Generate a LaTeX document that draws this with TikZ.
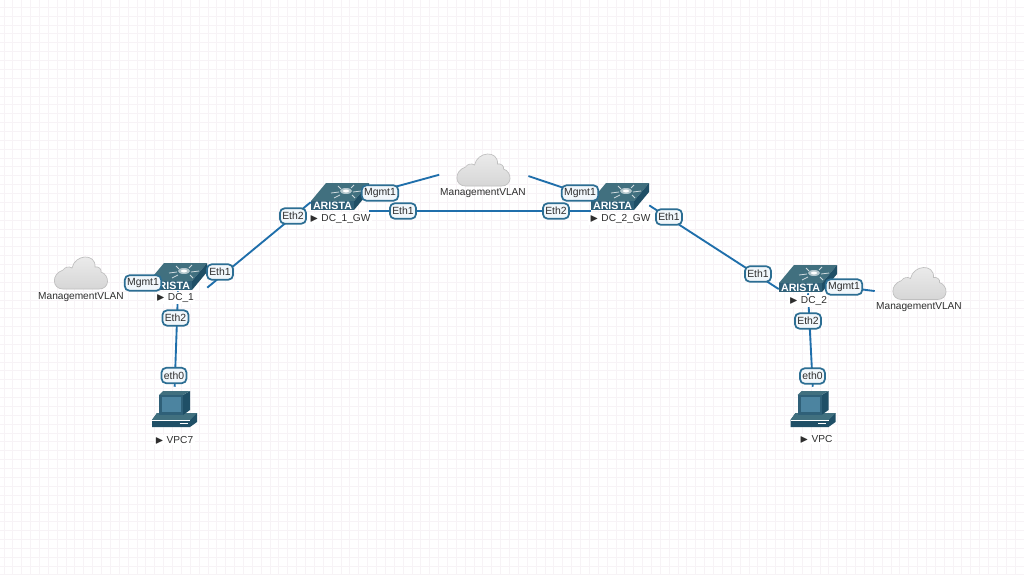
\documentclass[tikz,border=0pt]{standalone}
\usepackage{amssymb}
\usepackage{fontspec}
\setmainfont{Liberation Sans}
\definecolor{wirecol}{HTML}{1F6FAB}
\definecolor{portcol}{HTML}{2C6E93}
\definecolor{portfill}{HTML}{F1F7FB}
\definecolor{gridcol}{HTML}{F7F3F6}
\definecolor{textcol}{HTML}{2E2E2E}
\definecolor{hwtop}{HTML}{41707F}
\definecolor{hwfront}{HTML}{2F6078}
\definecolor{hwside}{HTML}{1F4F66}
\definecolor{hwscreen}{HTML}{4C84A0}
\tikzset{
  devbox/.style={inner sep=0pt,minimum width=43.5pt,minimum height=21pt},
  cloudbox/.style={inner sep=0pt,minimum width=40pt,minimum height=24pt},
  vpcbox/.style={inner sep=0pt,minimum width=33.75pt,minimum height=27pt},
  wire/.style={draw=wirecol,line width=1.4pt},
  port/.style={draw=portcol,fill=portfill,line width=1.3pt,rounded corners=3.6pt,
    inner xsep=1.8pt,inner ysep=0pt,minimum height=11.6pt,text=textcol,font=\fontsize{7.8}{8}\selectfont},
  devlabel/.style={fill=white,inner xsep=1pt,inner ysep=1pt,text=textcol,font=\fontsize{7.6}{8}\selectfont},
  aristaswitch/.pic={
    \fill[hwtop] (-14,-14) -- (29,-14) -- (14,4) -- (-29,4) -- cycle;
    \fill[hwside] (14,4) -- (29,-14) -- (29,-5) -- (14,13) -- cycle;
    \fill[hwfront] (-29,4) rectangle (14,13);
    \draw[white!75!hwtop,line width=0.6pt] (-9,-4) -- (-1,-5) (13,-5) -- (21,-6)
      (-2,-11) -- (1,-8) (14,-12) -- (11,-9) (-6,1) -- (0,-2) (12,-2) -- (15,1);
    \fill[white!60!hwtop] (6,-6) ellipse (6 and 3);
    \fill[white] (6,-6) ellipse (3 and 1.5);
    \node[text=white,inner sep=0pt,font=\fontsize{8}{8}\bfseries\selectfont] at (-7.5,8.7) {ARISTA};
  },
  cloudicon/.pic={
    \path[draw=black!25,line width=0.5pt,top color=black!7,middle color=white,bottom color=black!16]
      (-18,16) .. controls (-29,16) and (-30,1) .. (-18,-3)
      .. controls (-16,-6) and (-12,-7) .. (-9,-5)
      .. controls (-6,-19) and (15,-20) .. (14,-6)
      .. controls (17,-7) and (21,-4) .. (20,-1)
      .. controls (29,2) and (29,16) .. (18,16) -- cycle;
  },
  vpcicon/.pic={
    \fill[hwside] (-17.5,4) -- (22.5,4) -- (22.5,13) -- (15.5,18) -- (-22.5,18) -- (-22.5,11) -- cycle;
    \fill[hwtop] (-17.5,4) -- (22.5,4) -- (15.5,11) -- (-22.5,11) -- cycle;
    \fill[hwside] (8.5,-14) -- (15.5,-18) -- (15.5,1) -- (8.5,6) -- cycle;
    \fill[hwtop] (-15.5,-14) -- (-11.5,-18) -- (15.5,-18) -- (8.5,-14) -- cycle;
    \fill[hwfront] (-15.5,-14) rectangle (8.5,6);
    \fill[hwscreen] (-12.5,-12) rectangle (6.5,3);
    \draw[white,line width=0.5pt] (-22.5,11) -- (15.5,11) (5,14.5) -- (13,14.5);
  }
}
\begin{document}
\begin{tikzpicture}[x=0.75pt,y=-0.75pt]
  \useasboundingbox[fill=white] (0,0) rectangle (1024,575);
  \foreach \k in {0,...,115} {
    \draw[gridcol,line width=0.75pt] ({4+8.87*\k},0) -- ({4+8.87*\k},575);
  }
  \foreach \k in {0,...,64} {
    \draw[gridcol,line width=0.75pt] (0,{7.3+8.87*\k}) -- (1024,{7.3+8.87*\k});
  }

  \node[devbox] (dc1) at (178,277) {};
  \node[devbox] (dc1gw) at (340,197) {};
  \node[devbox] (dc2gw) at (620,197) {};
  \node[devbox] (dc2) at (808,279) {};
  \pic at (dc1) {aristaswitch};
  \pic at (dc1gw) {aristaswitch};
  \pic at (dc2gw) {aristaswitch};
  \pic at (dc2) {aristaswitch};

  \node[cloudbox] (cloudl) at (81,273) {};
  \node[cloudbox] (cloudm) at (483.5,170) {};
  \node[cloudbox] (cloudr) at (919.5,283.5) {};
  \pic at (cloudl) {cloudicon};
  \pic at (cloudm) {cloudicon};
  \pic at (cloudr) {cloudicon};

  \node[vpcbox] (vpc7) at (174.5,409) {};
  \node[vpcbox] (vpc) at (813,409) {};
  \pic at (vpc7) {vpcicon};
  \pic at (vpc) {vpcicon};

  \draw[wire] (dc1.-20) -- (dc1gw.-170);
  \draw[wire] (dc1gw.south east) -- (dc2gw.south west);
  \draw[wire] (dc2gw.-16) -- (dc2.-161);
  \draw[wire,shorten >=3pt] (dc1.south) -- (vpc7.north);
  \draw[wire,shorten >=3pt] (dc2.south) -- (vpc.north);
  \draw[wire,shorten >=13.5pt] (dc1gw.6) -- (cloudm.west);
  \draw[wire,shorten >=14.25pt] (dc2gw.west) -- (cloudm.east);
  \draw[wire,shorten >=13.5pt] (dc2.-14) -- (cloudr.-160);

  \node[devlabel] at (175,298) {$\blacktriangleright$ DC\_1};
  \node[devlabel] at (340,219) {$\blacktriangleright$ DC\_1\_GW};
  \node[devlabel] at (620,219) {$\blacktriangleright$ DC\_2\_GW};
  \node[devlabel] at (808,301) {$\blacktriangleright$ DC\_2};
  \node[devlabel] at (174,440) {$\blacktriangleright$ VPC7};
  \node[devlabel] at (816,439) {$\blacktriangleright$ VPC};
  \node[devlabel,fill=none] at (81,297) {ManagementVLAN};
  \node[devlabel,fill=none] at (483,193) {ManagementVLAN};
  \node[devlabel,fill=none] at (919,307) {ManagementVLAN};

  \node[port] (dc1m) at (143,283) {Mgmt1};
  \node[port] (dc1e1) at (220,272) {Eth1};
  \node[port] (dc1e2) at (175.5,318) {Eth2};
  \node[port] (vpc7e) at (174,375.5) {eth0};
  \node[port] (gw1e2) at (293,216) {Eth2};
  \node[port] (gw1m) at (380,193) {Mgmt1};
  \node[port] (gw1e1) at (403,211) {Eth1};
  \node[port] (gw2e2) at (556,211) {Eth2};
  \node[port] (gw2m) at (580,193) {Mgmt1};
  \node[port] (gw2e1) at (669,217) {Eth1};
  \node[port] (dc2e1) at (758,274) {Eth1};
  \node[port] (dc2m) at (844,287) {Mgmt1};
  \node[port] (dc2e2) at (808,321) {Eth2};
  \node[port] (vpce) at (812.5,376) {eth0};
\end{tikzpicture}
\end{document}
